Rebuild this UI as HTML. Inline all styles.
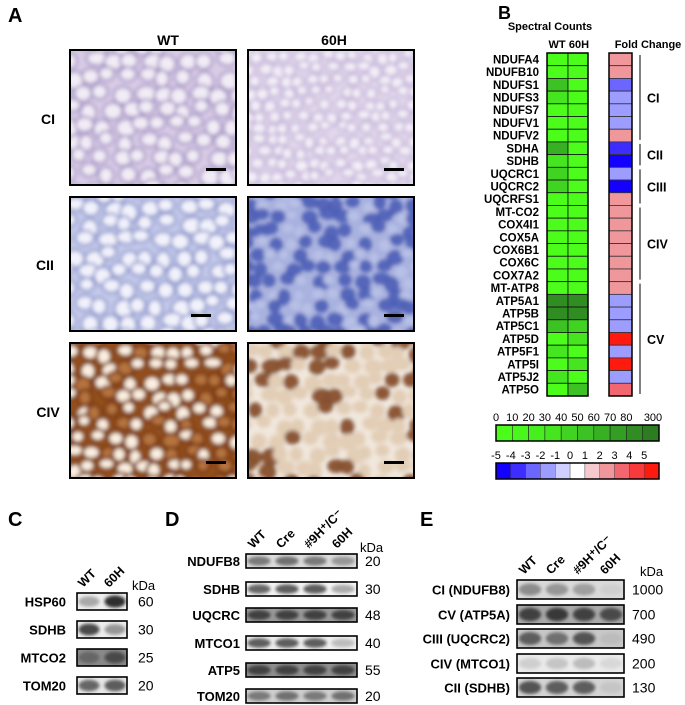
<!DOCTYPE html>
<html><head><meta charset="utf-8"><style>
html,body{margin:0;padding:0;background:#fff;}
svg{display:block;font-family:"Liberation Sans",sans-serif;}
.b{font-weight:bold;}
</style></head><body>
<svg id="fig" width="685" height="705" viewBox="0 0 685 705" xmlns="http://www.w3.org/2000/svg">
<defs>
<filter id="blur1" x="-20%" y="-50%" width="140%" height="200%"><feGaussianBlur stdDeviation="1.6"/></filter>
<filter id="blur2"><feGaussianBlur stdDeviation="2.2"/></filter>
<clipPath id="c1"><rect x="70" y="50" width="166" height="135"/></clipPath>
<clipPath id="c2"><rect x="248" y="50" width="166" height="135"/></clipPath>
<clipPath id="c3"><rect x="70" y="197" width="166" height="134"/></clipPath>
<clipPath id="c4"><rect x="248" y="197" width="166" height="134"/></clipPath>
<clipPath id="c5"><rect x="70" y="343" width="166" height="135"/></clipPath>
<clipPath id="c6"><rect x="248" y="343" width="166" height="135"/></clipPath>
</defs>
<g>
<text x="8" y="22" class="b" font-size="20">A</text>
<text x="168" y="45" class="b" font-size="14" text-anchor="middle">WT</text>
<text x="334" y="45" class="b" font-size="14" text-anchor="middle">60H</text>
<text x="48" y="124" class="b" font-size="14" text-anchor="middle">CI</text>
<text x="45" y="270" class="b" font-size="14" text-anchor="middle">CII</text>
<text x="48" y="417" class="b" font-size="14" text-anchor="middle">CIV</text>
<g id="micro"></g>
</g>
<g>
<text x="498" y="19" class="b" font-size="18">B</text>
<text x="550" y="30" class="b" font-size="11" text-anchor="middle">Spectral Counts</text>
<text x="557" y="48" class="b" font-size="11" text-anchor="middle">WT</text>
<text x="579" y="48" class="b" font-size="11" text-anchor="middle">60H</text>
<text x="648" y="48" class="b" font-size="11" text-anchor="middle">Fold Change</text>
<g id="heat"></g>
<g id="legends"></g>
</g>
<g>
<text x="8" y="526" class="b" font-size="20">C</text>
<g id="blotC"></g>
</g>
<g>
<text x="165" y="526" class="b" font-size="20">D</text>
<g id="blotD"></g>
</g>
<g>
<text x="420" y="526" class="b" font-size="20">E</text>
<g id="blotE"></g>
</g>
</svg>
<script>
// ---- Heatmap data ----
const genes = ["NDUFA4","NDUFB10","NDUFS1","NDUFS3","NDUFS7","NDUFV1","NDUFV2","SDHA","SDHB","UQCRC1","UQCRC2","UQCRFS1","MT-CO2","COX4I1","COX5A","COX6B1","COX6C","COX7A2","MT-ATP8","ATP5A1","ATP5B","ATP5C1","ATP5D","ATP5F1","ATP5I","ATP5J2","ATP5O"];
const wtCounts = [5,5,55,35,5,5,5,60,35,40,45,5,5,5,5,5,5,5,5,90,90,50,5,35,5,35,5];
const h60Counts = [5,5,5,5,5,5,5,5,5,5,5,5,5,5,5,5,5,5,5,85,85,40,35,5,35,5,50];
const foldChange = [1.5,1.5,-3,-2,-2,-2,1.5,-4.5,-5,-2,-5,1.5,1.5,1.5,1.5,1.5,1.5,1.5,1.5,-2,-2,-2,4.5,-2,4.5,-2,2.5];
const countTicks = ["0","10","20","30","40","50","60","70","80","300"];
const countEdges = [0,10,20,30,40,50,60,70,80,300];
const foldTicks = ["-5","-4","-3","-2","-1","0","1","2","3","4","5"];
const groupNames = ["CI","CII","CIII","CIV","CV"];
const groupStart = [0,7,9,12,18];
const groupEnd = [6,8,11,17,26];

const greens = ['#4cfd1c','#49f71d','#47ef1e','#45e51f','#40d321','#3cc222','#38b023','#339e23','#2f8d21','#2c7d1f'];
const folds = ['#1400ff','#3d2dff','#6b66ff','#9d9cff','#cfd0ff','#ffffff','#f5c9cd','#f0979b','#f26670','#f93a3d','#ff1a10'];
const NS="http://www.w3.org/2000/svg";
function mk(tag, attrs, parent){const e=document.createElementNS(NS,tag);for(const k in attrs)e.setAttribute(k,attrs[k]);parent.appendChild(e);return e;}
function countBin(v){let i=0;for(let k=0;k<countEdges.length-1;k++){if(v>=countEdges[k])i=k;}return i;}
function foldIdx(v){return Math.max(0,Math.min(10,Math.round(v)+5));}
const rowTop=53, rowBot=396;
const rowH=(rowBot-rowTop)/genes.length;
function yRow(i){return rowTop+i*rowH;}
const heat=document.getElementById('heat');
genes.forEach((g,i)=>{
  const t=mk('text',{x:539,y:yRow(i)+rowH*0.82,'font-size':11.5,'text-anchor':'end',class:'b'},heat);
  t.textContent=g;
  
  
  const c1=mk('rect',{x:547,y:yRow(i),width:21,height:rowH,fill:greens[countBin(wtCounts[i])],stroke:'#111','stroke-width':0.8},heat);
  
  
  const c2=mk('rect',{x:568,y:yRow(i),width:20,height:rowH,fill:greens[countBin(h60Counts[i])],stroke:'#111','stroke-width':0.8},heat);
  
  
  const c3=mk('rect',{x:609,y:yRow(i),width:23,height:rowH,fill:folds[foldIdx(foldChange[i])],stroke:'#333','stroke-width':0.8},heat);
  
  
});
mk('rect',{x:547,y:rowTop,width:41,height:rowBot-rowTop,fill:'none',stroke:'#000','stroke-width':1.5},heat);
mk('rect',{x:609,y:rowTop,width:23,height:rowBot-rowTop,fill:'none',stroke:'#000','stroke-width':1.5},heat);
groupNames.forEach((n,k)=>{
  const y1=yRow(groupStart[k])+2, y2=yRow(groupEnd[k]+1)-2;
  const l=mk('line',{x1:640,x2:640,y1:y1,y2:y2,stroke:'#000','stroke-width':1},heat);
  
  
  const t=mk('text',{x:647,y:(y1+y2)/2+5,'font-size':12.5,class:'b'},heat);
  t.textContent=n;
  
  
});
// legends
const lg=document.getElementById('legends');
const lx0=496,lx1=659;
let w=(lx1-lx0)/greens.length;
greens.forEach((c,i)=>{
  const r=mk('rect',{x:lx0+i*w,y:425,width:w,height:16,fill:c,stroke:'#222','stroke-width':0.6},lg);
  
  
  const t=mk('text',{x:lx0+i*w+(i==9?w-6:0),y:421,'font-size':11,'text-anchor':'middle'},lg);
  t.textContent=countTicks[i];
  
  
});
mk('rect',{x:lx0,y:425,width:lx1-lx0,height:16,fill:'none',stroke:'#000','stroke-width':1.5},lg);
w=(lx1-lx0)/folds.length;
folds.forEach((c,i)=>{
  const r=mk('rect',{x:lx0+i*w,y:463,width:w,height:16,fill:c,stroke:'#444','stroke-width':0.4},lg);
  
  
  const t=mk('text',{x:lx0+i*w,y:459,'font-size':11,'text-anchor':'middle'},lg);
  t.textContent=foldTicks[i];
  
  
});
mk('rect',{x:lx0,y:463,width:lx1-lx0,height:16,fill:'none',stroke:'#000','stroke-width':1.5},lg);

// ---- Microscopy (decorative texture) ----
const micro=document.getElementById('micro');
function prand(s){const x=Math.sin(s*12.9898)*43758.5453;return x-Math.floor(x);}
function panel(clip,x,y,wd,ht,bg,cellFill,edge,seed,opts,name){
  const g=mk('g',{'clip-path':'url(#'+clip+')'},micro);
  
  
  mk('rect',{x:x,y:y,width:wd,height:ht,fill:bg},g);
  const gb=mk('g',{filter:'url(#blur2)'},g);
  const sp=opts.sp||15;
  let n=0;
  for(let yy=y-5;yy<y+ht+10;yy+=sp*0.85){
    for(let xx=x-5;xx<x+wd+10;xx+=sp){
      n++;
      const r1=prand(seed+n), r2=prand(seed+n*3.1), r3=prand(seed+n*7.7);
      const cx=xx+(r1-0.5)*sp*0.6+((Math.round((yy-y)/sp))%2)*sp*0.4;
      const cy=yy+(r2-0.5)*sp*0.5;
      if(opts.sparse && r3>opts.sparse) continue;
      const col = opts.mix ? (r3<opts.mix? cellFill : opts.alt) : cellFill;
      mk('ellipse',{cx:cx,cy:cy,rx:sp*0.47*(0.8+r1*0.4),ry:sp*0.42*(0.8+r2*0.4),fill:col,stroke:(opts.mix&&r3>=opts.mix&&opts.altEdge)?opts.altEdge:edge,'stroke-width':opts.sw||2},gb);
    }
  }
  mk('rect',{x:x,y:y,width:wd,height:ht,fill:'none',stroke:'#000','stroke-width':2},micro);
  if(opts.bar) mk('rect',{x:x+wd-(opts.barOff||30),y:y+ht-17,width:20,height:3,fill:'#000'},micro);
}
panel('c1',70,50,166,135,'#d8cce6','#f1ecf5','#9781bb',1,{sp:19,bar:1},'ci-wt-image');
panel('c2',248,50,166,135,'#e2d8ec','#f3eff7','#c0aed6',2,{sp:14,bar:1},'ci-60h-image');
panel('c3',70,197,166,134,'#c3c9e9','#f1f2fb','#7a84c4',3,{sp:19,bar:1,barOff:45},'cii-wt-image');
panel('c4',248,197,166,134,'#aab3df','#5466bb','#3f4fa8',4,{sp:15,bar:1,mix:0.55,alt:'#b7c0e6',altEdge:'#98a3d8',sw:1},'cii-60h-image');
panel('c5',70,343,166,135,'#94501e','#fbefe0','#7a3810',5,{sp:17,bar:1,mix:0.65,alt:'#b5753f',sw:3},'civ-wt-image');
panel('c6',248,343,166,135,'#f1e8de','#8d5634','#6e3f22',6,{sp:17,bar:1,mix:0.35,alt:'#e2cdb5',altEdge:'#e6d5c2',sw:1},'civ-60h-image');

// ---- Western blots ----
function blot(gid,boxX,boxW,lanes,rowsY,rowH,labels,kda,laneLabels,bands,bgs,labelX,kdaX,kdaHX,kdaY,prefix){
  const g=document.getElementById(gid);
  laneLabels.forEach((l,i)=>{
    const t=mk('text',{x:lanes[i]-6,y:rowsY[0]-5,'font-size':12.5,class:'b',transform:'rotate(-45 '+(lanes[i]-6)+' '+(rowsY[0]-5)+')'},g);
    t.textContent=l;
    
    
  });
  const k=mk('text',{x:kdaHX,y:kdaY,'font-size':13},g);
  k.textContent='kDa';
  
  
  labels.forEach((lab,r)=>{
    const y=rowsY[r];
    const bg=mk('rect',{x:boxX,y:y,width:boxW,height:rowH,fill:bgs[r]},g);
    
    
    const bgG=mk('g',{filter:'url(#blur1)'},g);
    bands[r].forEach((d,i)=>{
      if(d<=0) return;
      const c=Math.round(235-d*190);
      mk('ellipse',{cx:lanes[i],cy:y+rowH/2,rx:(boxW/lanes.length)*0.42,ry:rowH*0.28+d*rowH*0.08,fill:'rgb('+c+','+c+','+c+')'},bgG);
    });
    mk('rect',{x:boxX,y:y,width:boxW,height:rowH,fill:'none',stroke:'#000','stroke-width':1.6},g);
    const t=mk('text',{x:labelX,y:y+rowH/2+5,'font-size':13,class:'b','text-anchor':'end'},g);
    t.textContent=lab;
    
    
    const n=mk('text',{x:kdaX,y:y+rowH/2+5,'font-size':14},g);
    n.textContent=kda[r];
    
    
  });
}
blot('blotC',77,50,[89,115],[593,621,649,677],17,
 ["HSP60","SDHB","MTCO2","TOM20"],["60","30","25","20"],["WT","60H"],
 [[0.35,1],[0.85,0.45],[0.7,0.85],[0.7,0.75]],['#eee','#eee','#8a8a8a','#e8e8e8'],66,138,132,590,'c');
blot('blotD',246,111,[259,287,315,343],[554,582,608,636,663,689],14,
 ["NDUFB8","SDHB","UQCRC","MTCO1","ATP5","TOM20"],["20","30","48","40","55","20"],["WT","Cre","#9H\u207A/C\u207B","60H"],
 [[0.6,0.65,0.6,0.45],[0.7,0.75,0.75,0.35],[0.9,0.9,0.9,0.9],[0.75,0.75,0.75,0.25],[0.9,0.9,0.9,0.9],[0.6,0.65,0.6,0.65]],
 ['#dcdcdc','#f4f4f4','#9a9a9a','#eee','#8f8f8f','#cfcfcf'],240,365,360,552,'d');
blot('blotE',517,107,[530,557,584,611],[580,605,629,654,678],19,
 ["CI (NDUFB8)","CV (ATP5A)","CIII (UQCRC2)","CIV (MTCO1)","CII (SDHB)"],["1000","700","490","200","130"],["WT","Cre","#9H\u207A/C\u207B","60H"],
 [[0.5,0.45,0.4,0.15],[0.9,0.95,0.9,0.85],[0.75,0.65,0.8,0.25],[0.15,0.2,0.25,0.1],[0.8,0.75,0.75,0.2]],
 ['#dadada','#aaaaaa','#c8c8c8','#ebebeb','#d4d4d4'],510,632,640,576,'e');
</script>
</body></html>
